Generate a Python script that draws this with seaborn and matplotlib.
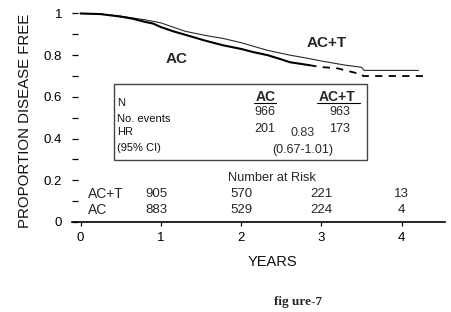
import matplotlib
matplotlib.use("Agg")
import matplotlib.pyplot as plt
import seaborn as sns
import numpy as np
from matplotlib.ticker import MultipleLocator

# ---- data ----
ac_years_solid = [0, 0.25, 0.5, 0.65, 0.8, 0.9, 1.0, 1.15, 1.33, 1.55, 1.78, 2.0, 2.15, 2.33, 2.5, 2.61, 2.75, 2.85]
ac_surv_solid = [1.0, 0.997, 0.985, 0.975, 0.96, 0.952, 0.935, 0.915, 0.895, 0.87, 0.847, 0.83, 0.815, 0.80, 0.78, 0.766, 0.758, 0.752]
ac_years_dash = [2.85, 3.0, 3.2, 3.3, 3.45, 3.5, 3.52, 4.28]
ac_surv_dash = [0.752, 0.743, 0.737, 0.727, 0.713, 0.71, 0.70, 0.70]
act_years = [0, 0.25, 0.5, 0.65, 0.8, 1.0, 1.3, 1.55, 1.78, 2.0, 2.33, 2.61, 2.83, 3.0, 3.3, 3.5, 3.53, 4.21]
act_surv = [1.0, 0.997, 0.987, 0.978, 0.97, 0.955, 0.915, 0.895, 0.88, 0.86, 0.823, 0.80, 0.785, 0.772, 0.752, 0.742, 0.727, 0.727]

risk_years = [0.95, 2, 3, 4]
risk_act = ["905", "570", "221", "13"]
risk_ac = ["883", "529", "224", "4"]

x_ticks = [0, 1, 2, 3, 4]
y_ticks = [0, 0.2, 0.4, 0.6, 0.8, 1.0]
y_ticklabels = ["0", "0.2", "0.4", "0.6", "0.8", "1"]

table_rows = ["N", "No. events", "HR", "(95% CI)"]
n_ac, n_act = "966", "963"
ev_ac, ev_act = "201", "173"
hr, ci = "0.83", "(0.67-1.01)"

# ---- style ----
sns.set_theme(style="white")
plt.rcParams["font.family"] = ["Liberation Sans", "DejaVu Sans"]

fig = plt.figure(figsize=(4.51, 3.12), dpi=100)
ax = fig.add_axes([72 / 451, (312 - 222) / 312, 373 / 451, 212.7 / 312])

sns.lineplot(x=act_years, y=act_surv, ax=ax, color="#2a2a2a", linewidth=0.8,
             estimator=None, sort=False)
sns.lineplot(x=ac_years_solid, y=ac_surv_solid, ax=ax, color="black", linewidth=1.5,
             estimator=None, sort=False)
sns.lineplot(x=ac_years_dash, y=ac_surv_dash, ax=ax, color="black", linewidth=1.3,
             linestyle=(0, (4, 3.5)), estimator=None, sort=False)

ax.set_xlim(-0.106, 4.54)
ax.set_ylim(0, 1.02)

for s in ["top", "right", "left"]:
    ax.spines[s].set_visible(False)
ax.spines["bottom"].set_color("black")
ax.spines["bottom"].set_linewidth(1.2)

ax.set_xticks(x_ticks)
ax.set_xticklabels([str(t) for t in x_ticks], fontsize=9.5)
ax.xaxis.get_major_ticks()[0].tick1line.set_visible(False)
ax.tick_params(axis="x", direction="out", length=3, width=0.9, pad=4, colors="black", bottom=True)

ax.set_yticks(y_ticks)
ax.set_yticklabels(y_ticklabels, fontsize=9.5)
ax.yaxis.set_minor_locator(MultipleLocator(0.1))
ax.tick_params(axis="y", which="both", direction="in", length=4, width=0.9, pad=7,
               colors="black", left=True)
ax.grid(False)

ax.set_xlabel("")
ax.set_ylabel("")
fig.text(25 / 451, 1 - 121 / 312, "PROPORTION DISEASE FREE", rotation=90,
         ha="center", va="center", fontsize=10.8, color="#111")
fig.text(272 / 451, 1 - 262 / 312, "YEARS", ha="center", va="center", fontsize=10.5, color="#111")

# curve labels
ax.text(1.2, 0.78, "AC", fontsize=11, fontweight="bold", ha="center", va="center")
ax.text(3.07, 0.86, "AC+T", fontsize=11, fontweight="bold", ha="center", va="center")

# table box
ax.add_patch(plt.Rectangle((0.417, 0.297), 3.57 - 0.417, 0.662 - 0.297, fill=False,
                           edgecolor="#444", linewidth=1.0))
row_y = [0.571, 0.494, 0.432, 0.355]
for lab, yy in zip(table_rows, row_y):
    ax.text(0.455, yy, lab, fontsize=8, ha="left", va="center", color="#111")
ax.text(2.30, 0.60, "AC", fontsize=10, fontweight="bold", ha="center", va="center")
ax.text(3.19, 0.60, "AC+T", fontsize=10, fontweight="bold", ha="center", va="center")
ax.plot([2.16, 2.43], [0.572, 0.572], color="black", lw=0.8)
ax.plot([2.94, 3.48], [0.572, 0.572], color="black", lw=0.8)
ax.text(2.30, 0.528, n_ac, fontsize=9, ha="center", va="center")
ax.text(3.23, 0.528, n_act, fontsize=9, ha="center", va="center")
ax.text(2.30, 0.446, ev_ac, fontsize=9, ha="center", va="center")
ax.text(3.23, 0.446, ev_act, fontsize=9, ha="center", va="center")
ax.text(2.76, 0.427, hr, fontsize=9, ha="center", va="center", color="#333")
ax.text(2.77, 0.345, ci, fontsize=9, ha="center", va="center")

# number at risk
ax.text(1.84, 0.211, "Number at Risk", fontsize=9.2, ha="left", va="center")
ax.text(0.093, 0.134, "AC+T", fontsize=10, ha="left", va="center")
ax.text(0.093, 0.058, "AC", fontsize=10, ha="left", va="center")
for xx, a, b in zip(risk_years, risk_act, risk_ac):
    ax.text(xx, 0.134, a, fontsize=9.5, ha="center", va="center")
    ax.text(xx, 0.058, b, fontsize=9.5, ha="center", va="center")

fig.text(298 / 451, 1 - 302 / 312, "fig ure-7", ha="center", va="center", fontsize=9.5,
         fontweight="bold", family=["Liberation Serif", "DejaVu Serif"])

fig.savefig("out.png", dpi=100)
